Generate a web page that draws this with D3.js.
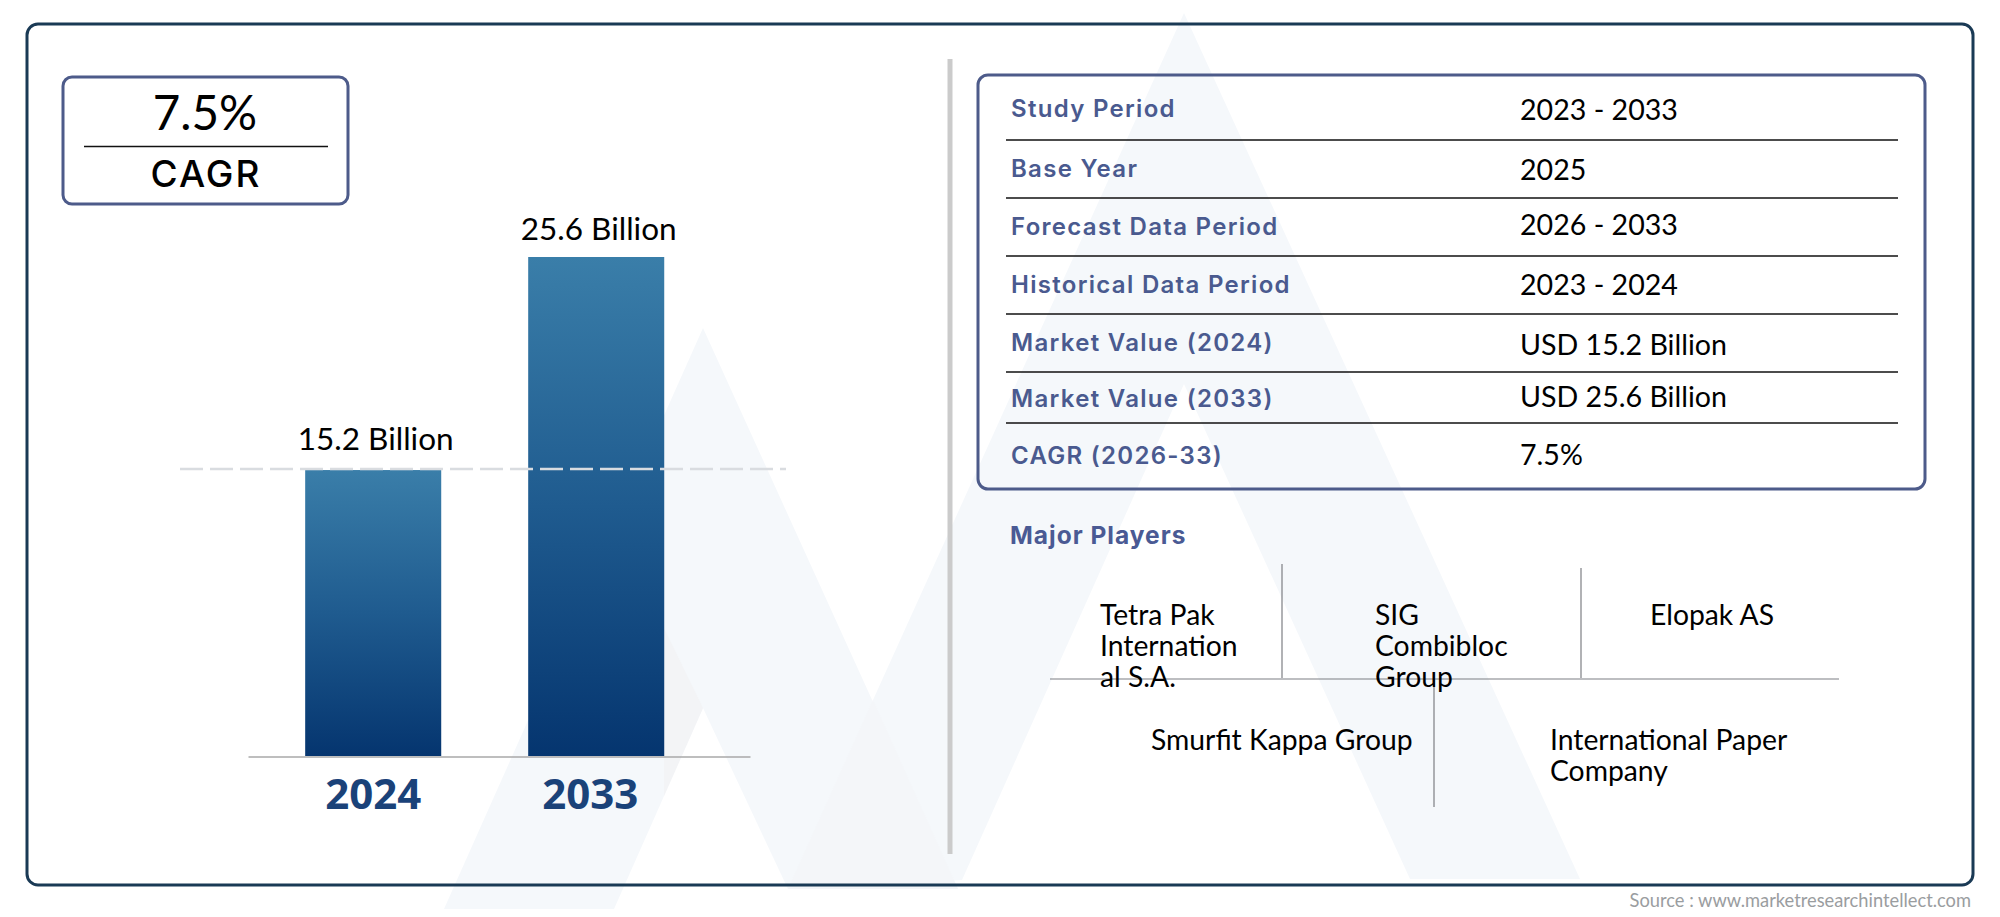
<!DOCTYPE html>
<html><head><meta charset="utf-8">
<script src="https://cdn.jsdelivr.net/npm/d3@7/dist/d3.min.js"></script>
<style>html,body{margin:0;padding:0;background:#fff}svg{display:block}</style>
</head><body><svg id="c" width="2000" height="917"></svg>
<script>
const years = ["2024", "2033"];
const values = [15.2, 25.6];
const valueLabels = ["15.2 Billion", "25.6 Billion"];
const cagrValue = "7.5%";
const cagrLabel = "CAGR";
const rowLabels = ["Study Period","Base Year","Forecast Data Period","Historical Data Period","Market Value (2024)","Market Value (2033)","CAGR (2026-33)"];
const rowValues = ["2023 - 2033","2025","2026 - 2033","2023 - 2024","USD 15.2 Billion","USD 25.6 Billion","7.5%"];
const playersTitle = "Major Players";
const players = [["Tetra Pak","Internation","al S.A."],["SIG","Combibloc","Group"],["Elopak AS"],["Smurfit Kappa Group"],["International Paper","Company"]];
const sourceText = "Source : www.marketresearchintellect.com";

const BODY = "Lato, sans-serif", HEAD = "Inter, sans-serif";
const svg = d3.select("#c");
const defs = svg.append("defs");
const g = defs.append("linearGradient").attr("id","bar").attr("x1",0).attr("x2",0).attr("y1",0).attr("y2",1);
g.append("stop").attr("offset","0%").attr("stop-color","#3a7ea9");
g.append("stop").attr("offset","50%").attr("stop-color","#1f5b8f");
g.append("stop").attr("offset","100%").attr("stop-color","#05356f");

// watermark
const wm = svg.append("g");
const WM = "#f5f8fb";
const poly = (pts,fill)=>wm.append("polygon").attr("points",pts.map(p=>p.join(",")).join(" ")).attr("fill",fill);
poly([[703,328],[444,909],[614,909],[703,708]],WM);
poly([[703,328],[958,889],[788,889],[703,708]],WM);
poly([[1184,13],[873,700],[788,889],[962,880],[1184,384]],WM);
poly([[1184,13],[1580,879],[1410,879],[1184,384]],WM);
poly([[703,708],[664,628],[664,796]],"#f3f4f6");
poly([[873,700],[958,889],[788,889]],"#f4f6f9");

// frame
svg.append("rect").attr("x",27).attr("y",24).attr("width",1946).attr("height",861).attr("rx",11).attr("fill","none").attr("stroke","#1a3a55").attr("stroke-width",3);
// divider
svg.append("line").attr("x1",950).attr("x2",950).attr("y1",59).attr("y2",854).attr("stroke","#cbcbcb").attr("stroke-width",5);

// CAGR box
svg.append("rect").attr("x",63).attr("y",77).attr("width",285).attr("height",127).attr("rx",9).attr("fill","#fff").attr("stroke","#4d5b8a").attr("stroke-width",3);
svg.append("line").attr("x1",84).attr("x2",328).attr("y1",146.5).attr("y2",146.5).attr("stroke","#111").attr("stroke-width",1.3);
svg.append("text").attr("x",205).attr("y",130).attr("text-anchor","middle").attr("font-family",BODY).attr("font-size",47.5).attr("fill","#000").text(cagrValue);
svg.append("text").attr("x",206).attr("y",187).attr("text-anchor","middle").attr("font-family",HEAD).attr("font-weight",500).attr("font-size",37).attr("letter-spacing",2).attr("fill","#000").text(cagrLabel);

// bars
const x = d3.scaleBand().domain(years).range([248,750]).paddingInner(0.39).paddingOuter(0.3205).align(0.4);
const y = d3.scaleLinear().domain([1.24,25.6]).range([756,257]);
svg.selectAll("rect.bar").data(years).join("rect").attr("class","bar")
  .attr("x",d=>x(d)).attr("width",x.bandwidth())
  .attr("y",(d,i)=>y(values[i])).attr("height",(d,i)=>y(y.domain()[0])-y(values[i]))
  .attr("fill","url(#bar)");
const labelGap = [20,17];
svg.selectAll("text.val").data(valueLabels).join("text").attr("class","val")
  .attr("x",(d,i)=>x(years[i])+x.bandwidth()/2+2.5).attr("y",(d,i)=>y(values[i])-labelGap[i])
  .attr("text-anchor","middle").attr("font-family",BODY).attr("font-size",31.5).attr("fill","#000").text(d=>d);
svg.append("line").attr("x1",180).attr("x2",786).attr("y1",y(values[0])-1).attr("y2",y(values[0])-1)
  .attr("stroke","#d9dce0").attr("stroke-width",2.5).attr("stroke-dasharray","23 7");
const ax = svg.append("g").attr("transform",`translate(0,${y(y.domain()[0])+0.5})`).call(d3.axisBottom(x).tickSize(0).tickPadding(23));
ax.select("path").attr("stroke","#a9a9a9").attr("stroke-width",1.6);
ax.selectAll("text").attr("font-family","'Open Sans', sans-serif").attr("font-weight",700).attr("font-size",42).attr("fill","#1a4279")
  .attr("dx",(d,i)=>i?-6:0);

// table
svg.append("rect").attr("x",978).attr("y",75).attr("width",947).attr("height",414).attr("rx",10).attr("fill","none").attr("stroke","#4d5b8a").attr("stroke-width",3);
const rowLineY = [140,198,256,314,372,423];
svg.selectAll("line.row").data(rowLineY).join("line").attr("class","row").attr("x1",1006).attr("x2",1898).attr("y1",d=>d).attr("y2",d=>d).attr("stroke","#111").attr("stroke-width",1.4);
const labelBase = [117,177,235,293,351,407,464], valueBase = [120,180,235,295,355,407,465];
svg.selectAll("text.rl").data(rowLabels).join("text").attr("class","rl").attr("x",1011).attr("y",(d,i)=>labelBase[i])
  .attr("font-family",HEAD).attr("font-weight",600).attr("font-size",24).attr("letter-spacing",1.3).attr("fill","#4a5a8f").text(d=>d);
svg.selectAll("text.rv").data(rowValues).join("text").attr("class","rv").attr("x",1520).attr("y",(d,i)=>valueBase[i])
  .attr("font-family",BODY).attr("font-size",28.6).attr("fill","#000").text(d=>d);

// players
svg.append("text").attr("x",1010).attr("y",544).attr("font-family",HEAD).attr("font-weight",700).attr("font-size",24.5).attr("letter-spacing",1).attr("fill","#4a5a94").text(playersTitle);
const lines = [[1282,564,1282,678],[1581,568,1581,678],[1050,679,1839,679],[1434,679,1434,807]];
svg.selectAll("line.pl").data(lines).join("line").attr("class","pl").attr("x1",d=>d[0]).attr("y1",d=>d[1]).attr("x2",d=>d[2]).attr("y2",d=>d[3]).attr("stroke","#7d7f84").attr("stroke-width",1.2);
const playerX=[1100,1375,1650,1151,1550], playerY=[625,625,625,750,750];
players.forEach((ls,i)=>{
  svg.selectAll(null).data(ls).join("text").attr("x",playerX[i]).attr("y",(d,j)=>playerY[i]+j*31)
    .attr("font-family",BODY).attr("font-size",28.3).attr("fill","#000").text(d=>d);
});
svg.append("text").attr("x",1971).attr("y",907).attr("text-anchor","end").attr("font-family",BODY).attr("font-size",18.3).attr("fill","#9a9da0").text(sourceText);
</script></body></html>
